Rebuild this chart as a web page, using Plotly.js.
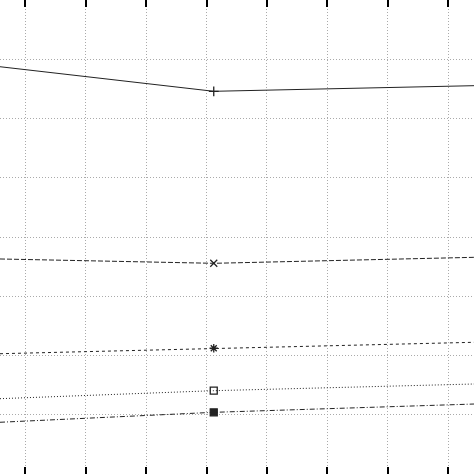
<!DOCTYPE html>
<html>
<head>
<meta charset="utf-8">
<script src="https://cdn.plot.ly/plotly-3.0.1.min.js"></script>
<style>html,body{margin:0;padding:0;background:#fff;}#chart{width:474px;height:474px;}</style>
</head>
<body>
<div id="chart"></div>
<script>
// x positions of the data points (left edge, marked point, right edge)
const xs = [-0.42, 3.12, 7.43];
const xTicks = [0, 1, 2, 3, 4, 5, 6, 7];
const yTicks = [0, 1, 2, 3, 4, 5, 6, 7, 8];

// series values
const seriesPlus   = [6.874, 6.459, 6.554];
const seriesCross  = [3.629, 3.556, 3.657];
const seriesStar   = [2.030, 2.122, 2.223];
const seriesOpenSq = [1.271, 1.406, 1.519];
const seriesFillSq = [0.873, 1.041, 1.181];

const markIdx = 1;
const c = '#222';

function series(y, dash, sym, size) {
  return [
    {x: xs, y: y, mode: 'lines', line: {color: c, width: 1, dash: dash}, hoverinfo: 'skip', showlegend: false},
    {x: [xs[markIdx]], y: [y[markIdx]], mode: 'markers', showlegend: false,
     marker: {symbol: sym, size: size, color: c, line: {color: c, width: 1.3}}}
  ];
}

const data = [].concat(
  series(seriesPlus, 'solid', 'cross-thin-open', 7),
  series(seriesCross, '5px,2px', 'x-thin-open', 7),
  series(seriesStar, '3px,3px', 'asterisk-open', 7),
  series(seriesOpenSq, '1px,2px', 'square-open', 7),
  series(seriesFillSq, '5px,2px,1px,2px', 'square', 7)
);

const layout = {
  width: 474, height: 474,
  margin: {l: 0, r: 0, t: 0, b: 0, pad: 0},
  paper_bgcolor: '#fff', plot_bgcolor: '#fff',
  showlegend: false,
  xaxis: {
    range: [-0.42, 7.43], tickvals: xTicks, showticklabels: false,
    showgrid: true, gridcolor: '#aaa', griddash: '1px,2px', gridwidth: 1,
    ticks: 'inside', ticklen: 7, tickwidth: 2, tickcolor: '#000',
    mirror: 'ticks', showline: false, zeroline: false
  },
  yaxis: {
    range: [0, 8], tickvals: yTicks, showticklabels: false,
    showgrid: true, gridcolor: '#aaa', griddash: '1px,2px', gridwidth: 1,
    ticks: '', showline: false, zeroline: false
  }
};

Plotly.newPlot('chart', data, layout, {displayModeBar: false, staticPlot: true});
</script>
</body>
</html>
